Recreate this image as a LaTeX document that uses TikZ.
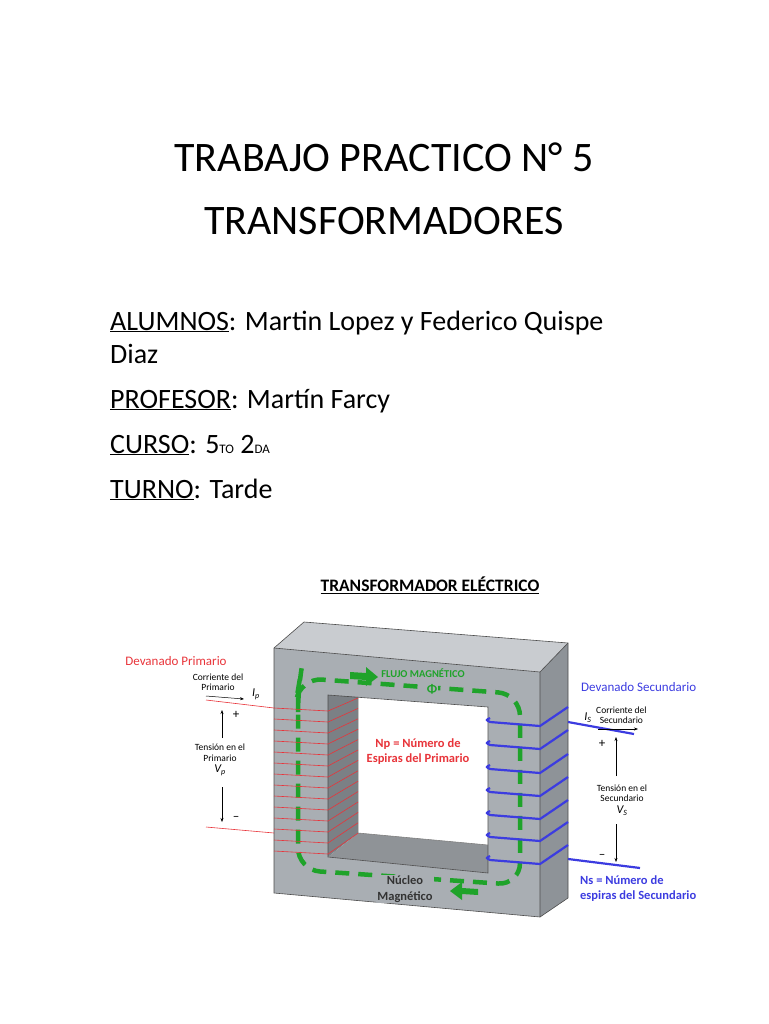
\documentclass[tikz,border=0pt]{standalone}
\usepackage{fontspec}
\setmainfont{Carlito}
\usetikzlibrary{arrows.meta}
\definecolor{cfront}{HTML}{A9AEB3}
\definecolor{ctop}{HTML}{C9CCD0}
\definecolor{cside}{HTML}{8E9398}
\definecolor{cinner}{HTML}{7B8085}
\definecolor{cgreen}{HTML}{1FA32A}
\definecolor{cred}{HTML}{E8343A}
\definecolor{cblue}{HTML}{3C3CE0}
\tikzset{
 body/.style={anchor=base west,font=\fontsize{28}{32}\selectfont,inner sep=0},
 big/.style={anchor=base,font=\fontsize{42}{48}\selectfont,inner sep=0},
 lab/.style={font=\fontsize{9.5}{10.5}\selectfont,align=center,inner sep=0},
 blab/.style={font=\bfseries\fontsize{12.5}{15}\selectfont,align=center,inner sep=0},
 core/.style={draw=black!70,line width=0.6pt},
 redw/.style={cred,line width=0.6pt},
 bluew/.style={cblue,line width=2.2pt},
 flux/.style={cgreen,line width=4.5pt,dash pattern=on 14pt off 9pt},
 thin/.style={-{Stealth[length=4pt]},line width=0.5pt}
}
\begin{document}
\begin{tikzpicture}[x=1pt,y=-1pt]
\useasboundingbox (0,0) rectangle (768,1024);
% texts
\node[big] (t1) at (384,172) {TRABAJO PRACTICO N° 5};
\node[big] (t2) at (384,234) {TRANSFORMADORES};
\node[body] (al) at (110,330) {\underline{ALUMNOS}: Martin Lopez y Federico Quispe};
\node[body] (al2) at (110,363) {Diaz};
\node[body] (pr) at (110,408) {\underline{PROFESOR}: Martín Farcy};
\node[body] (cu) at (110,453) {\underline{CURSO}: 5{\fontsize{13}{15}\selectfont TO} 2{\fontsize{13}{15}\selectfont DA}};
\node[body] (tu) at (110,498) {\underline{TURNO}: Tarde};
\node[font=\bfseries\fontsize{17.5}{20}\selectfont,inner sep=0] (dt) at (430,585) {\underline{TRANSFORMADOR ELÉCTRICO}};
% core
\fill[ctop] (274,648) -- (304,622) -- (568,643) -- (540,672) -- cycle;
\fill[cside] (540,672) -- (568,643) -- (568,898) -- (540,917) -- cycle;
\fill[cfront] (274,648) -- (540,672) -- (540,917) -- (274,893) -- cycle;
\fill[white] (328,695) -- (488,707) -- (488,873) -- (328,857) -- cycle;
\fill[cinner] (328,695) -- (358,697) -- (358,833) -- (328,857) -- cycle;
\fill[cinner!85] (358,833) -- (488,845) -- (488,873) -- (328,857) -- cycle;
\draw[core] (274,648) -- (304,622) -- (568,643) -- (568,898) -- (540,917) -- (274,893) -- cycle;
\draw[core] (274,648) -- (540,672) -- (568,643) (540,672) -- (540,917);
\draw[core] (328,695) -- (488,707) -- (488,873) -- (328,857) -- cycle;
\draw[core,black!50] (358,697) -- (358,833) -- (488,845);
% flux
\draw[flux,rounded corners=22pt] (298,720) -- (298,690) -- (300,678) -- (520,694) -- (520,885) -- (298,870) -- cycle;
\fill[cgreen] (350,672) -- (366,673) -- (366,667) -- (378,677) -- (366,686) -- (366,680) -- (350,679) -- cycle;
\fill[cgreen] (478,889) -- (462,888) -- (462,882) -- (450,891) -- (462,900) -- (462,894) -- (478,895) -- cycle;
\node[font=\bfseries\fontsize{10.5}{12}\selectfont,text=cgreen,inner sep=1pt,fill=cfront] (fl) at (423,673) {FLUJO MAGNÉTICO};
\node[font=\bfseries\fontsize{13}{14}\selectfont,text=cgreen,inner sep=1pt,fill=cfront] (phi) at (432,689) {Φ};
% primary winding
\foreach \k in {0,...,13}{
 \draw[redw] (274,{708+11*\k}) -- (328,{711+11*\k}) -- (358,{698+10.4*\k});
}
\draw[redw] (206,700) -- (274,708);
\draw[redw] (206,827) -- (274,833);
% secondary winding
\foreach \y in {720,743,767,790,813,835,858}{
 \draw[bluew] (490,\y-2) .. controls (486,\y) .. (490,\y+2) -- (540,\y+6) -- (568,\y-13);
}
\draw[bluew] (568,722) -- (634,734);
\draw[bluew] (568,859) -- (640,868);
% labels left
\node[font=\fontsize{13}{15}\selectfont,text=cred,inner sep=0] (dp) at (176,661) {Devanado Primario};
\node[lab] (cp) at (218,682) {Corriente del\\Primario};
\coordinate (ip1) at (206,696); \coordinate (ip2) at (244,699);
\draw[thin] (ip1) -- (ip2);
\node[font=\itshape\fontsize{12}{13}\selectfont,inner sep=0] (ip) at (256,694) {I\textsubscript{p}};
\node[inner sep=0,font=\fontsize{13}{13}\selectfont] (pp) at (236,715) {+};
\node[inner sep=0,font=\fontsize{13}{13}\selectfont] (mp) at (236,818) {--};
\node[lab] (tp) at (220,760) {Tensión en el\\Primario\\[1pt]{\itshape\fontsize{12}{13}\selectfont V\textsubscript{p}}};
\coordinate (vp1) at (222,738); \coordinate (vp2) at (222,710);
\coordinate (vp3) at (222,787); \coordinate (vp4) at (222,822);
\draw[thin] (vp1) -- (vp2); \draw[thin] (vp3) -- (vp4);
% labels center
\node[blab,text=cred] (np) at (418,752) {Np = Número de\\Espiras del Primario};
\node[blab,text=black!80,fill=cfront,inner sep=1pt] (nu) at (405,889) {Núcleo\\[1pt]Magnético};
% labels right
\node[font=\fontsize{13}{15}\selectfont,text=cblue,anchor=west,inner sep=0] (ds) at (581,687) {Devanado Secundario};
\node[lab,anchor=west] (cs) at (596,715) {Corriente del\\Secundario};
\node[font=\itshape\fontsize{12}{13}\selectfont,inner sep=0] (is) at (588,718) {I\textsubscript{S}};
\coordinate (is1) at (598,729); \coordinate (is2) at (638,729);
\draw[thin] (is1) -- (is2);
\node[inner sep=0,font=\fontsize{13}{13}\selectfont] (ps) at (602,744) {+};
\node[inner sep=0,font=\fontsize{13}{13}\selectfont] (ms) at (602,856) {--};
\node[lab] (ts) at (622,800) {Tensión en el\\Secundario\\[1pt]{\itshape\fontsize{12}{13}\selectfont V\textsubscript{S}}};
\coordinate (vs1) at (616,776); \coordinate (vs2) at (616,737);
\coordinate (vs3) at (616,824); \coordinate (vs4) at (616,862);
\draw[thin] (vs1) -- (vs2); \draw[thin] (vs3) -- (vs4);
\node[blab,text=cblue,align=left,anchor=west] (ns) at (580,889) {Ns = Número de\\espiras del Secundario};
\end{tikzpicture}
\end{document}
